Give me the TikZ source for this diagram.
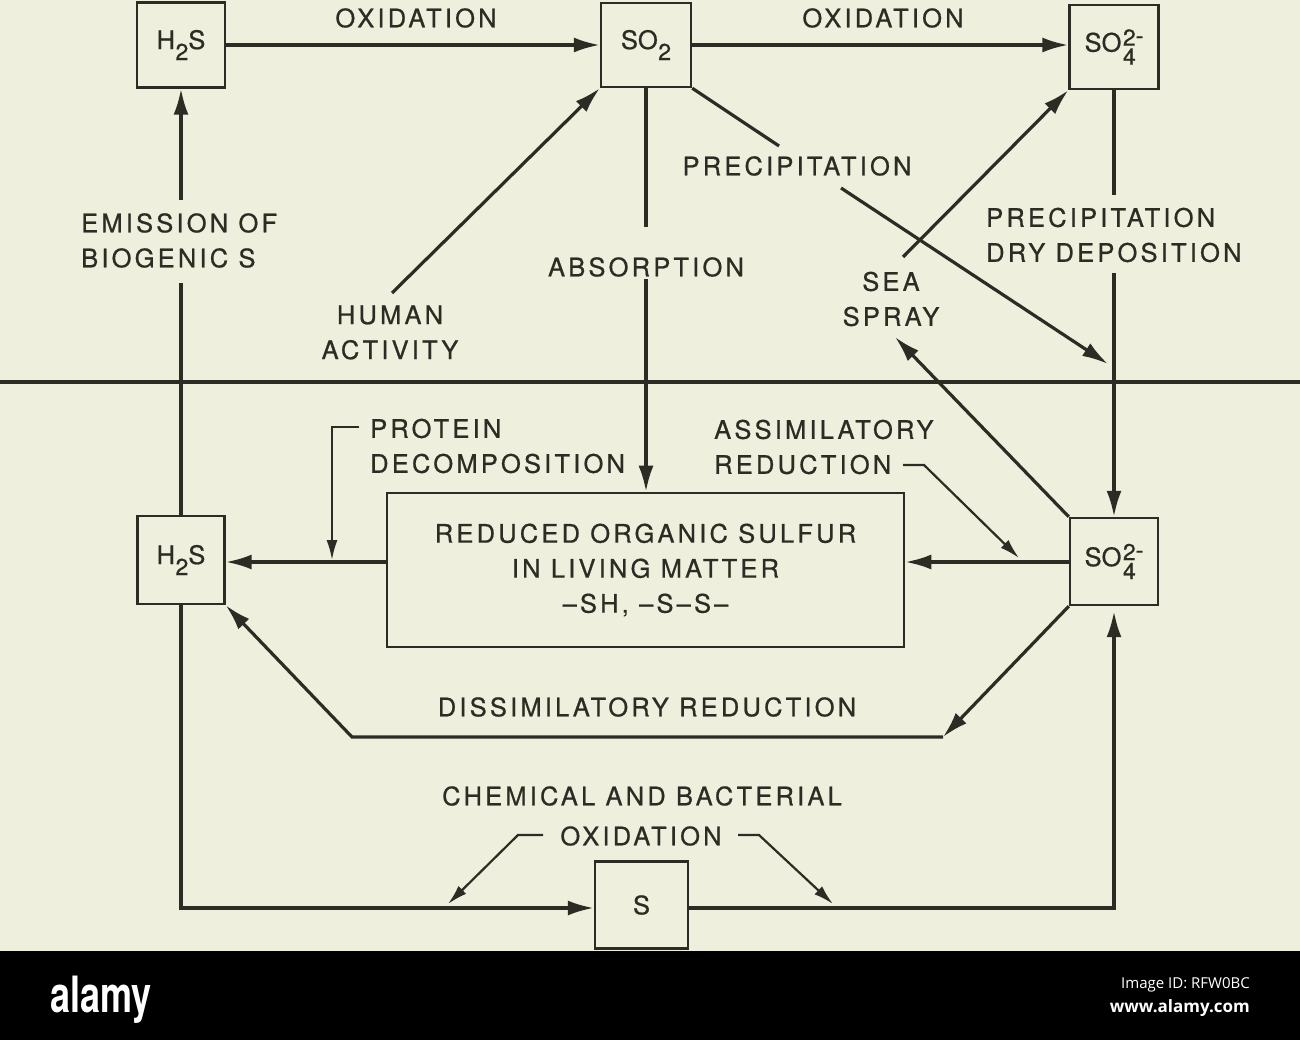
\documentclass[tikz,border=0pt]{standalone}
\usepackage{fontspec}
\setmainfont{TeX Gyre Heros}
\newfontfamily\lab[LetterSpace=12.5, FakeBold=0.7]{TeX Gyre Heros}
\newfontfamily\boxf[FakeBold=0.7]{TeX Gyre Heros}
\newfontfamily\opensans{Open Sans}
\usetikzlibrary{arrows.meta,calc}
\definecolor{bg}{RGB}{238,239,221}
\definecolor{ink}{RGB}{45,44,36}
\newcommand\dig[1]{{\fontsize{23}{23}\selectfont #1}}
\newcommand\lowdig[1]{\kern0.5pt\raisebox{-11pt}{\dig{#1}}}
\newcommand\sulfate{SO\kern1.5pt\rlap{\raisebox{6pt}{\dig{2\raisebox{2pt}{-}}}}\raisebox{-13pt}{\dig{4}}\phantom{\dig{-}}}
\tikzset{
  every node/.style={font=\lab\fontsize{25.5}{35}\selectfont, text=ink},
  box/.style={draw=ink, line width=2.4pt, minimum width=88pt, minimum height=85pt, inner sep=0pt, font=\boxf\fontsize{25.5}{30}\selectfont},
  flow/.style={draw=ink, line width=3.2pt},
  flowarr/.style={flow, -{Latex[length=26pt,width=15pt]}},
  lead/.style={draw=ink, line width=2.2pt},
  leadarr/.style={lead, -{Latex[length=20pt,width=11pt]}},
  lbl/.style={align=center, inner sep=0pt},
  lbll/.style={align=left, inner sep=0pt, anchor=west},
}
\begin{document}
\begin{tikzpicture}[x=1pt,y=-1pt]
\useasboundingbox (0,0) rectangle (1300,1040);
\fill[bg] (0,0) rectangle (1300,951);
\fill[black] (0,951) rectangle (1300,1040);

% boxes
\node[box] (h2st) at (181,45) {H\lowdig{2}S};
\node[box, minimum width=90pt, minimum height=84pt] (so2) at (646,45) {SO\lowdig{2}};
\node[box, minimum width=89pt, minimum height=84pt] (so4t) at (1114,47) {\sulfate};
\node[box, minimum width=87pt, minimum height=88pt] (h2sl) at (181,560) {H\lowdig{2}S};
\node[box, minimum width=88pt, minimum height=87pt] (so4l) at (1114,561.5) {\sulfate};
\node[box, line width=2.6pt, minimum width=517pt, minimum height=154pt, align=center, font=\lab\fontsize{25.5}{35}\selectfont] (red) at (645.5,570) {REDUCED ORGANIC SULFUR\\IN LIVING MATTER\\\textendash SH, \textendash S\textendash S\textendash};
\node[box, minimum width=93pt, minimum height=87pt] (sbox) at (641.5,905) {S};

% ground line
\draw[ink, line width=4pt] (0,382) -- (1300,382);

% coordinates
\coordinate (lowY) at (0,562);
\coordinate (bl) at (181,908);
\coordinate (br) at (1114,908);
\coordinate (em1) at (181,283);
\coordinate (em2) at (181,200);
\coordinate (hum) at (392,293);
\coordinate (ab1) at (646,227);
\coordinate (ab2) at (646,279);
\coordinate (pr1) at (779,146);
\coordinate (pr2) at (841,188);
\coordinate (pr3) at (1108,364);
\coordinate (ss1) at (903,257);
\coordinate (ss2) at (895,337);
\coordinate (pd1) at (1114,195);
\coordinate (pd2) at (1114,273);
\coordinate (ds1) at (943,737);
\coordinate (ds2) at (352,737);
\coordinate (pt1) at (359,427);
\coordinate (pt2) at (332,427);
\coordinate (pt3) at (332,560);
\coordinate (as1) at (903,465);
\coordinate (as2) at (924,465);
\coordinate (as3) at (1019,558);
\coordinate (cl1) at (543,835);
\coordinate (cl2) at (518,835);
\coordinate (cl3) at (448,904);
\coordinate (cr1) at (738,835);
\coordinate (cr2) at (759,835);
\coordinate (cr3) at (833,904);

% top flows
\draw[flowarr] (h2st.east) -- (so2.west);
\draw[flowarr] (so2.east) -- (so4t.west |- so2.east);
% emission
\draw[flow] (h2sl.north) -- (em1);
\draw[flowarr] (em2) -- (h2st.south);
% human activity
\draw[flowarr] (hum) -- (so2.south west);
% absorption
\draw[flow] (so2.south) -- (ab1);
\draw[flowarr] (ab2) -- (red.north -| ab2);
% precipitation from SO2
\draw[flow] (so2.south east) -- (pr1);
\draw[flowarr] (pr2) -- (pr3);
% sea spray
\draw[flowarr] (ss1) -- (so4t.south west);
\draw[flowarr] (so4l.north west) -- (ss2);
% precipitation / dry deposition
\draw[flow] (so4t.south) -- (pd1);
\draw[flowarr] (pd2) -- (so4l.north);
% lower flows
\draw[flowarr] (so4l.west |- lowY) -- (red.east |- lowY);
\draw[flowarr] (red.west |- lowY) -- (h2sl.east |- lowY);
% dissimilatory reduction
\draw[flowarr] (so4l.south west) -- (ds1);
\draw[flowarr] (ds1) -- (ds2) -- (h2sl.south east);
% bottom loop
\draw[flowarr] (h2sl.south) -- (bl) -- (sbox.west |- bl);
\draw[flowarr, shorten >=5pt] (sbox.east |- bl) -- (br) -- (so4l.south);
% leaders
\draw[leadarr] (pt1) -- (pt2) -- (pt3);
\draw[leadarr] (as1) -- (as2) -- (as3);
\draw[leadarr] (cl1) -- (cl2) -- (cl3);
\draw[leadarr] (cr1) -- (cr2) -- (cr3);

% labels
\node[lbl] (ox1) at (416,18) {OXIDATION};
\node[lbl] (ox2) at (883,18) {OXIDATION};
\node[lbll] (emis) at (81,240.5) {EMISSION OF\\BIOGENIC S};
\node[lbl] (human) at (390,332.5) {HUMAN\\ACTIVITY};
\node[lbl] (absorp) at (646,267) {ABSORPTION};
\node[lbl] (precip) at (797,166) {PRECIPITATION};
\node[lbl] (sea) at (891,299) {SEA\\SPRAY};
\node[lbll] (pdry) at (986,235) {PRECIPITATION\\DRY DEPOSITION};
\node[lbll] (protein) at (370,446) {PROTEIN\\DECOMPOSITION};
\node[lbll] (assim) at (714,447) {ASSIMILATORY\\REDUCTION};
\node[lbl] (dissim) at (647,707) {DISSIMILATORY REDUCTION};
\node[lbl] (chem) at (642,796) {CHEMICAL AND BACTERIAL};
\node[lbl] (chemox) at (641,836) {OXIDATION};

% watermark bar
\node[anchor=base west, inner sep=0pt, text=white, font=\normalfont\bfseries\fontsize{50}{50}\selectfont] (logo) at (50,1012) {\scalebox{0.72}[1]{alamy}};
\node[anchor=base east, inner sep=0pt, text=white, font=\opensans\fontsize{15}{15}\selectfont] (imgid) at (1250,988) {Image ID: RFW0BC};
\node[anchor=base east, inner sep=0pt, text=white, font=\opensans\bfseries\fontsize{17}{17}\selectfont] (www) at (1250,1012) {www.alamy.com};
\end{tikzpicture}
\end{document}
